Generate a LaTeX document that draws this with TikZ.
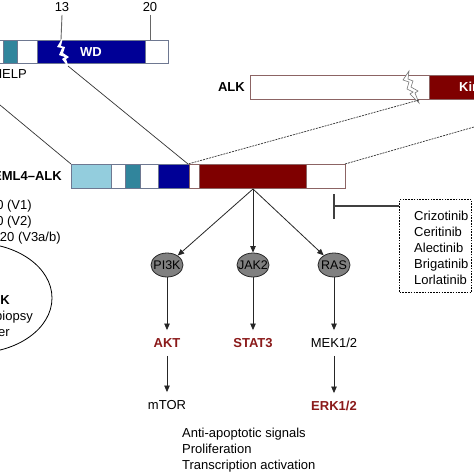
\documentclass[tikz,border=0pt]{standalone}
\usepackage{fontspec}
\setmainfont{Liberation Sans}
\usetikzlibrary{arrows.meta,shapes.geometric}
\definecolor{lblue}{HTML}{93CDDD}
\definecolor{teal2}{HTML}{31859C}
\definecolor{navy2}{HTML}{000096}
\definecolor{dred}{HTML}{7F0000}
\definecolor{txtred}{HTML}{8B1A1A}
\definecolor{edgeb}{HTML}{6E7891}
\definecolor{edger}{HTML}{8C6464}
\tikzset{
  seg/.style={draw=edgeb, line width=0.8pt},
  segr/.style={draw=edger, line width=0.8pt},
  conn/.style={line width=0.7pt, draw=black!80},
  dconn/.style={line width=0.7pt, draw=black!80, dash pattern=on 2pt off 1pt},
  arr/.style={line width=0.8pt, draw=black!85, -{Triangle[length=6.5pt,width=5.5pt]}},
  sig/.style={ellipse, draw=black!85, fill=black!50, line width=0.8pt, minimum width=32pt, minimum height=24pt, inner sep=0pt},
  siglbl/.style={font=\fontsize{12.5}{14}\selectfont},
  pw/.style={inner xsep=2pt, inner ysep=8pt, text height=9.5pt, text depth=0pt, font=\fontsize{13}{15}\selectfont},
  pwred/.style={pw, text=txtred, font=\fontsize{13}{15}\selectfont\bfseries},
  lbl/.style={font=\fontsize{13}{16}\selectfont, inner sep=0pt},
}
\begin{document}
\begin{tikzpicture}[x=1pt,y=-1pt]
\clip (0,0) rectangle (474,474);
\fill[white] (0,0) rectangle (474,474);

% ---- EML4 (top) ----
\draw[seg, fill=white] (-10,40) rectangle (3,63);
\draw[seg, fill=teal2] (3,40) rectangle (17,63);
\draw[seg, fill=white] (17,40) rectangle (37,63);
\draw[seg, fill=navy2] (37,40) rectangle (145,63);
\draw[seg, fill=white] (145,40) rectangle (168,63);
\node[lbl, text=white, font=\fontsize{13}{16}\selectfont\bfseries] (wd) at (91,52) {WD};
\node[lbl] (e13) at (62,7) {13};
\node[lbl] (e20) at (150,7) {20};
\draw[line width=0.9pt, draw=black!60] (e13.south) ++(0,3) -- (61,40);
\draw[line width=0.9pt, draw=black!60] (e20.south) ++(0,3) -- (150,40);
\node[lbl, anchor=east] (help) at (27,74) {HELP};
% break in EML4
\fill[white] (63,37) -- (57,47) -- (62,48) -- (59,55) -- (65,57) -- (62,59) -- (69,68)
  -- (66,59) -- (69,57) -- (63,53) -- (65,47) -- (61,46) -- cycle;
\coordinate (ebrk) at (68,66);

% ---- ALK (top right) ----
\draw[segr, fill=white] (250,75) rectangle (429,99);
\draw[segr, fill=dred] (429,75) rectangle (490,99);
\node[lbl, anchor=west, text=white, font=\fontsize{13}{16}\selectfont\bfseries] (kin) at (459,87) {Kinase};
\node[lbl, anchor=east, font=\fontsize{13}{16}\selectfont\bfseries] (alk) at (245,87) {ALK};
\filldraw[fill=white, draw=black!55, line width=0.6pt]
  (409,71) -- (403,80) -- (409,82) -- (407,89) -- (413,92) -- (410,94) -- (419,103)
  -- (415,93) -- (418,91) -- (411,87) -- (413,81) -- (408,79) -- cycle;
\coordinate (abrk) at (419,100);

% ---- fusion bar ----
\draw[seg, fill=lblue] (71,164) rectangle (111,188);
\draw[seg, fill=white] (111,164) rectangle (125,188);
\draw[seg, fill=teal2] (125,164) rectangle (140,188);
\draw[seg, fill=white] (140,164) rectangle (158,188);
\draw[seg, fill=navy2] (158,164) rectangle (189,188);
\draw[segr, fill=white] (189,164) rectangle (199,188);
\draw[segr, fill=dred] (199,164) rectangle (306,188);
\draw[segr, fill=white] (306,164) rectangle (345,188);
\node[lbl, anchor=east, font=\fontsize{13}{16}\selectfont\bfseries] (fus) at (62,176) {EML4–ALK};
\coordinate (fl) at (71,164);
\coordinate (fj) at (188,164);
\coordinate (fr) at (345,164);
\coordinate (offl) at (0,105);
\coordinate (offr) at (474,127);

% connectors between bars
\draw[conn] (offl) -- (fl);
\draw[conn] (ebrk) -- (fj);
\draw[dconn] (abrk) -- (fj);
\draw[dconn] (fr) -- (offr);

% ---- variants ----
\node[lbl, anchor=north west, align=left] (var) at (-46.5,200)
  {E13;A20 (V1)\\E20;A20 (V2)\\E6a/b;A20 (V3a/b)};

% ---- ellipse at left ----
\draw[line width=0.8pt] (-25,298) ellipse (77 and 55);
\node[lbl, anchor=east, font=\fontsize{13}{16}\selectfont\bfseries] (dx) at (10,300) {Test for ALK};
\node[lbl, anchor=east] (bx) at (33,317) {Tissue or liquid biopsy};
\node[lbl, anchor=east] (cx) at (10,333) {Lung cancer};

% ---- pathway ----
\coordinate (bp) at (253,189);
\node[sig, label={[siglbl]center:PI3K}] (pi3k) at (167,265) {};
\node[sig, label={[siglbl]center:JAK2}] (jak2) at (253,265) {};
\node[sig, label={[siglbl]center:RAS}] (ras) at (334,265) {};
\draw[arr] (bp) -- (pi3k);
\draw[arr] (bp) -- (jak2);
\draw[arr] (bp) -- (ras);

\node[pwred] (akt) at (167,343) {AKT};
\node[pwred] (stat3) at (253,343) {STAT3};
\node[pw] (mek) at (334,343) {MEK1/2};
\draw[arr] (pi3k) -- (akt);
\draw[arr] (jak2) -- (stat3);
\draw[arr] (ras) -- (mek);

\node[pw] (mtor) at (167,405) {mTOR};
\node[pwred] (erk) at (334,406) {ERK1/2};
\draw[arr] (akt) -- (mtor);
\draw[arr] (mek) -- (erk);

\node[lbl, anchor=north west, align=left] (out) at (182,428)
  {Anti-apoptotic signals\\Proliferation\\Transcription activation};

% ---- inhibitors ----
\coordinate (tb1) at (334,194);
\coordinate (tb2) at (334,219);
\coordinate (tbm) at (334,206);
\node[draw=black, line width=1.1pt, dash pattern=on 1.6pt off 1.2pt, minimum width=72pt, minimum height=93pt, inner sep=0pt, anchor=north west] (box) at (399,199) {};
\draw[line width=1.1pt, draw=black!75] (tb1) -- (tb2);
\draw[line width=1.1pt, draw=black!75] (tbm) -- (box.west |- tbm);
\node[lbl, anchor=north west, align=left] (drugs) at (414,211)
  {Crizotinib\\Ceritinib\\Alectinib\\Brigatinib\\Lorlatinib};
\end{tikzpicture}
\end{document}
